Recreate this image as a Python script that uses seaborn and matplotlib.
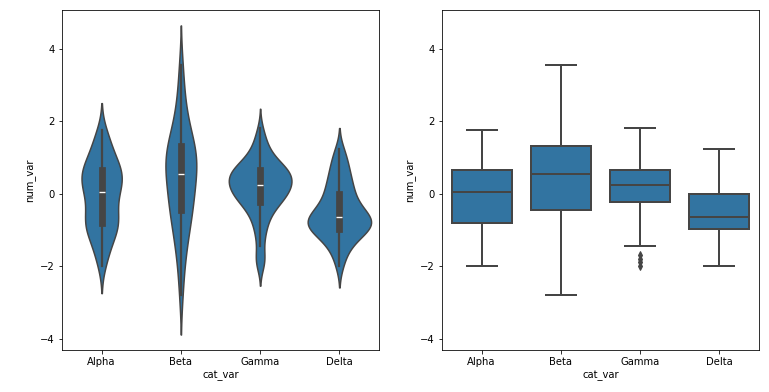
import numpy as np
import pandas as pd
import matplotlib
matplotlib.use("Agg")
import matplotlib.pyplot as plt
import seaborn as sns

categories = ["Alpha", "Beta", "Gamma", "Delta"]

alpha_vals = [-2.0, -1.745, -1.555, -1.4, -1.27, -1.16, -1.065, -0.985, -0.915, -0.855,
              -0.8, -0.74, -0.67, -0.59, -0.5, -0.4, -0.3, -0.2, -0.1, -0.02,
              0.05, 0.12, 0.19, 0.255, 0.315, 0.375, 0.43, 0.485, 0.54, 0.595,
              0.65, 0.71, 0.775, 0.85, 0.935, 1.03, 1.14, 1.265, 1.41, 1.57, 1.75]

beta_vals = [-2.8, -2.18, -1.81, -1.535, -1.31, -1.12, -0.955, -0.81, -0.68, -0.56,
             -0.45, -0.345, -0.241, -0.138, -0.036, 0.064, 0.163, 0.261, 0.358, 0.454,
             0.55, 0.625, 0.7, 0.775, 0.85, 0.925, 1.0, 1.075, 1.15, 1.225,
             1.3, 1.385, 1.485, 1.6, 1.735, 1.895, 2.085, 2.315, 2.605, 2.995, 3.55]

gamma_vals = [-2.0, -1.9, -1.8, -1.7,
              -1.45, -1.26, -1.12, -1.0, -0.89, -0.8, -0.71, -0.64, -0.57, -0.51,
              -0.455, -0.405, -0.36, -0.32, -0.285, -0.25,
              -0.22, -0.19, -0.163, -0.137, -0.111, -0.086, -0.061, -0.037, -0.013, 0.01,
              0.033, 0.056, 0.078, 0.1, 0.122, 0.143, 0.164, 0.185, 0.206, 0.227,
              0.25, 0.27, 0.29, 0.31, 0.33, 0.35, 0.37, 0.39, 0.41, 0.43,
              0.45, 0.47, 0.49, 0.51, 0.53, 0.55, 0.57, 0.59, 0.61, 0.63,
              0.65, 0.67, 0.691, 0.713, 0.737, 0.763, 0.791, 0.821, 0.854, 0.89,
              0.93, 0.975, 1.025, 1.081, 1.144, 1.214, 1.292, 1.382, 1.492, 1.627, 1.8]

delta_vals = [-2.0, -1.72, -1.55, -1.42, -1.32, -1.235, -1.165, -1.105, -1.055, -1.01,
              -0.97, -0.938, -0.906, -0.874, -0.842, -0.81, -0.778, -0.746, -0.714, -0.682,
              -0.65, -0.61, -0.565, -0.515, -0.46, -0.4, -0.335, -0.265, -0.19, -0.11,
              -0.02, 0.065, 0.155, 0.25, 0.35, 0.46, 0.58, 0.71, 0.855, 1.02, 1.22]

series = [alpha_vals, beta_vals, gamma_vals, delta_vals]
df = pd.DataFrame({
    "cat_var": np.repeat(categories, [len(s) for s in series]),
    "num_var": np.concatenate(series),
})

LINE = "#454545"
W, H, DPI = 769, 392, 72
fig = plt.figure(figsize=(W / DPI, H / DPI), dpi=DPI)
ax1 = fig.add_axes([62 / W, 1 - 350 / H, 317 / W, 340 / H])
ax2 = fig.add_axes([442 / W, 1 - 350 / H, 317 / W, 340 / H])

sns.violinplot(data=df, x="cat_var", y="num_var", order=categories, ax=ax1,
               bw_adjust=0.82, linecolor=LINE, linewidth=1.5)
sns.boxplot(data=df, x="cat_var", y="num_var", order=categories, ax=ax2,
            linecolor=LINE, linewidth=2, width=0.76,
            flierprops=dict(marker="d", markersize=5,
                            markerfacecolor=LINE, markeredgecolor=LINE))
ax2.set_ylim(ax1.get_ylim())

fig.savefig("out.png", dpi=DPI)
